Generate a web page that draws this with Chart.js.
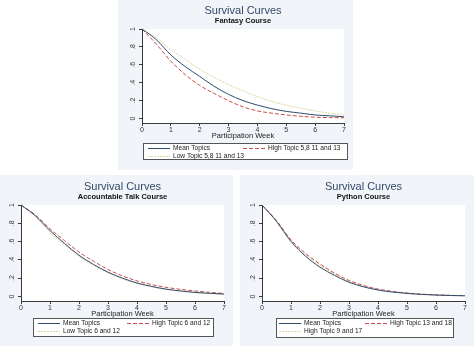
<!DOCTYPE html>
<html>
<head>
<meta charset="utf-8">
<script src="https://cdn.jsdelivr.net/npm/chart.js@4.4.0/dist/chart.umd.min.js"></script>
<style>
  body { margin: 0; background: #fff; width: 474px; height: 346px; position: relative; overflow: hidden; }
  .panel { position: absolute; background: #f1f5f9; }
  .panel canvas { display: block; }
</style>
</head>
<body>
<div class="panel" id="p1" style="left:118px;top:0;width:235px;height:170px"><canvas id="c1"></canvas></div>
<div class="panel" id="p2" style="left:0;top:175px;width:233px;height:171px"><canvas id="c2"></canvas></div>
<div class="panel" id="p3" style="left:240px;top:175px;width:234px;height:171px"><canvas id="c3"></canvas></div>
<script>
// weeks sampled every half week
const weeks = [0, 0.5, 1, 1.5, 2, 2.5, 3, 3.5, 4, 4.5, 5, 5.5, 6, 6.5, 7];
const yTicks = [0, 0.2, 0.4, 0.6, 0.8, 1];
const xTicks = [0, 1, 2, 3, 4, 5, 6, 7];

// Fantasy Course
const fantasyMean = [1, 0.88, 0.71, 0.58, 0.47, 0.36, 0.27, 0.2, 0.15, 0.11, 0.08, 0.06, 0.04, 0.03, 0.02];
const fantasyHigh = [1, 0.83, 0.64, 0.49, 0.37, 0.28, 0.2, 0.13, 0.085, 0.06, 0.04, 0.025, 0.015, 0.01, 0.008];
const fantasyLow = [1, 0.9, 0.77, 0.66, 0.55, 0.46, 0.38, 0.31, 0.245, 0.19, 0.15, 0.115, 0.085, 0.06, 0.045];

// Accountable Talk Course
const talkMean = [1, 0.88, 0.72, 0.58, 0.45, 0.35, 0.265, 0.2, 0.147, 0.11, 0.08, 0.06, 0.044, 0.034, 0.026];
const talkHigh = [1, 0.89, 0.74, 0.61, 0.485, 0.385, 0.295, 0.225, 0.17, 0.13, 0.1, 0.077, 0.06, 0.045, 0.033];
const talkLow = [1, 0.875, 0.7, 0.565, 0.44, 0.34, 0.255, 0.19, 0.14, 0.104, 0.075, 0.056, 0.04, 0.031, 0.024];

// Python Course
const pythonMean = [1, 0.82, 0.6, 0.44, 0.32, 0.23, 0.155, 0.105, 0.07, 0.048, 0.033, 0.022, 0.015, 0.01, 0.007];
const pythonHigh = [1, 0.83, 0.62, 0.47, 0.355, 0.255, 0.175, 0.12, 0.08, 0.055, 0.037, 0.025, 0.017, 0.012, 0.008];
const pythonOther = [1, 0.825, 0.61, 0.455, 0.34, 0.245, 0.165, 0.112, 0.075, 0.051, 0.035, 0.024, 0.016, 0.011, 0.0075];

const FONT = "'Liberation Sans', Arial, sans-serif";
const AXIS = '#3a3a3a';

function pts(values) {
  return weeks.map((w, i) => ({ x: w, y: values[i] }));
}

function fmtTick(v) {
  if (v === 0) return '0';
  if (v === 1) return '1';
  return String(Math.round(v * 10) / 10).replace('0.', '.');
}

// white plot region
const plotBg = {
  id: 'plotBg',
  beforeDraw(chart) {
    const { ctx, chartArea: a } = chart;
    ctx.save();
    ctx.fillStyle = '#ffffff';
    ctx.fillRect(a.left, a.top, a.right - a.left, a.bottom - a.top);
    ctx.restore();
  }
};

// stata-ish titles and boxed legend
const frame = {
  id: 'frame',
  afterDraw(chart, args, o) {
    const { ctx, chartArea: a } = chart;
    const cx = (a.left + a.right) / 2;
    ctx.save();
    ctx.textAlign = 'center';
    ctx.textBaseline = 'middle';
    ctx.fillStyle = '#34496a';
    ctx.font = '11px ' + FONT;
    ctx.fillText('Survival Curves', cx, o.titleY);
    ctx.fillStyle = '#111';
    ctx.font = 'bold 7.5px ' + FONT;
    ctx.fillText(o.subtitle, cx, o.titleY + 10);

    const b = o.box;
    ctx.fillStyle = '#ffffff';
    ctx.fillRect(b.x, b.y, b.w, b.h);
    ctx.strokeStyle = '#555';
    ctx.lineWidth = 1;
    ctx.strokeRect(b.x + 0.5, b.y + 0.5, b.w, b.h);

    const slots = [
      { x: b.x + o.col1, y: b.y + 5 },
      { x: b.x + o.col2, y: b.y + 5 },
      { x: b.x + o.col1, y: b.y + 13 }
    ];
    ctx.font = '6.6px ' + FONT;
    ctx.textAlign = 'left';
    chart.data.datasets.forEach((ds, i) => {
      const s = slots[i];
      ctx.strokeStyle = ds.borderColor;
      ctx.lineWidth = ds.borderWidth;
      ctx.setLineDash(ds.borderDash || []);
      ctx.beginPath();
      ctx.moveTo(s.x, s.y + 0.5);
      ctx.lineTo(s.x + 22, s.y + 0.5);
      ctx.stroke();
      ctx.setLineDash([]);
      ctx.fillStyle = '#222';
      ctx.fillText(ds.label, s.x + 25, s.y + 0.5);
    });
    ctx.restore();
  }
};

function makeChart(id, cfg) {
  const el = document.getElementById(id);
  const panel = el.parentNode;
  el.width = panel.offsetWidth;
  el.height = panel.offsetHeight;
  return new Chart(el, {
    type: 'line',
    data: {
      datasets: [
        { label: cfg.labels[0], data: pts(cfg.series[0]), borderColor: '#2d4b6e', borderWidth: 1 },
        { label: cfg.labels[1], data: pts(cfg.series[1]), borderColor: '#c8504a', borderWidth: 1, borderDash: [4, 2] },
        { label: cfg.labels[2], data: pts(cfg.series[2]), borderColor: '#e2d6a0', borderWidth: 1, borderDash: [2, 1] }
      ]
    },
    options: {
      responsive: false,
      animation: false,
      events: [],
      clip: false,
      elements: { point: { radius: 0 }, line: { cubicInterpolationMode: 'monotone' } },
      layout: { padding: { left: 0, top: cfg.top, right: cfg.right, bottom: cfg.bottom } },
      plugins: {
        legend: { display: false },
        tooltip: { enabled: false },
        frame: { titleY: cfg.titleY, subtitle: cfg.subtitle, box: cfg.box, col1: cfg.col1, col2: cfg.col2 }
      },
      scales: {
        x: {
          type: 'linear', min: 0, max: 7,
          afterBuildTicks: s => { s.ticks = xTicks.map(v => ({ value: v })); },
          afterFit: s => { s.height = 17; },
          border: { display: true, color: AXIS, width: 1 },
          grid: { drawOnChartArea: false, drawTicks: true, tickLength: 3, color: AXIS },
          ticks: { font: { family: FONT, size: 7 }, color: '#333', padding: 0, maxRotation: 0 },
          title: { display: true, text: 'Participation Week', font: { family: FONT, size: 7.5 }, color: '#222', padding: 0 }
        },
        y: {
          min: -0.05, max: 1,
          afterBuildTicks: s => { s.ticks = yTicks.map(v => ({ value: v })); },
          afterFit: s => { s.width = cfg.left; },
          border: { display: true, color: AXIS, width: 1 },
          grid: { drawOnChartArea: false, drawTicks: true, tickLength: 3, color: AXIS },
          ticks: {
            font: { family: FONT, size: 7 }, color: '#333', padding: 3,
            minRotation: 90, maxRotation: 90, crossAlign: 'center',
            callback: v => fmtTick(v)
          }
        }
      }
    },
    plugins: [plotBg, frame]
  });
}

makeChart('c1', {
  subtitle: 'Fantasy Course',
  labels: ['Mean Topics', 'High Topic 5,8 11 and 13', 'Low Topic 5,8 11 and 13'],
  series: [fantasyMean, fantasyHigh, fantasyLow],
  left: 24, right: 9, top: 29, bottom: 30, titleY: 11,
  box: { x: 25, y: 143, w: 204, h: 16 }, col1: 5, col2: 100
});

makeChart('c2', {
  subtitle: 'Accountable Talk Course',
  labels: ['Mean Topics', 'High Topic 6 and 12', 'Low Topic 6 and 12'],
  series: [talkMean, talkHigh, talkLow],
  left: 21, right: 9, top: 30, bottom: 28, titleY: 12,
  box: { x: 33, y: 143, w: 180, h: 18 }, col1: 5, col2: 94
});

makeChart('c3', {
  subtitle: 'Python Course',
  labels: ['Mean Topics', 'High Topic 13 and 18', 'High Topic 9 and 17'],
  series: [pythonMean, pythonHigh, pythonOther],
  left: 22, right: 9, top: 30, bottom: 28, titleY: 12,
  box: { x: 36, y: 143, w: 177, h: 19 }, col1: 3, col2: 89
});
</script>
</body>
</html>
